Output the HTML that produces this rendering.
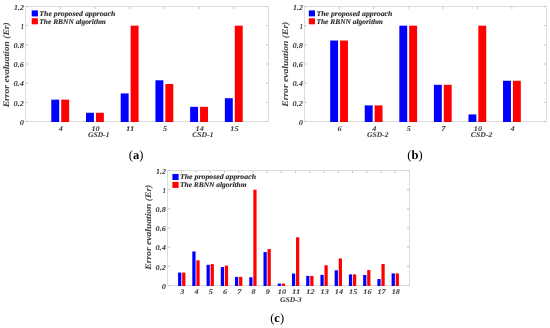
<!DOCTYPE html>
<html><head><meta charset="utf-8"><style>
html,body{margin:0;padding:0;background:#fff;}
svg{display:block;}
text{font-family:'Liberation Serif', serif;font-weight:bold;font-style:italic;fill:#2b2b2b;stroke:#2b2b2b;stroke-width:0.12px;text-rendering:geometricPrecision;}
text.tk{fill:#404040;stroke:#404040;stroke-width:0.05px;}
text.yl{fill:#404040;stroke:#404040;stroke-width:0.05px;}
text.cap{font-style:normal;font-weight:normal;fill:#000;stroke:none;}
</style></head><body>
<svg width="550" height="328" viewBox="0 0 550 328">
<rect x="25.5" y="6.5" width="243.0" height="115.0" fill="none" stroke="#dcdcdc" stroke-width="1"/>
<rect x="51.29" y="99.65" width="7.93" height="22.35" fill="#0000ff"/>
<rect x="61.21" y="99.65" width="7.93" height="22.35" fill="#ff0000"/>
<rect x="86.00" y="112.78" width="7.93" height="9.22" fill="#0000ff"/>
<rect x="95.92" y="112.78" width="7.93" height="9.22" fill="#ff0000"/>
<rect x="120.72" y="93.42" width="7.93" height="28.58" fill="#0000ff"/>
<rect x="130.63" y="25.67" width="7.93" height="96.33" fill="#ff0000"/>
<rect x="155.43" y="80.29" width="7.93" height="41.71" fill="#0000ff"/>
<rect x="165.35" y="84.03" width="7.93" height="37.97" fill="#ff0000"/>
<rect x="190.14" y="106.84" width="7.93" height="15.16" fill="#0000ff"/>
<rect x="200.06" y="106.84" width="7.93" height="15.16" fill="#ff0000"/>
<rect x="224.86" y="98.21" width="7.93" height="23.79" fill="#0000ff"/>
<rect x="234.78" y="25.67" width="7.93" height="96.33" fill="#ff0000"/>
<line x1="26.0" y1="121.50" x2="28.0" y2="121.50" stroke="#c4c4c4" stroke-width="1"/>
<line x1="268.0" y1="121.50" x2="266.0" y2="121.50" stroke="#c4c4c4" stroke-width="1"/>
<text x="23.90" y="124.70" font-size="7.5" text-anchor="end" class="tk" textLength="4.2" lengthAdjust="spacingAndGlyphs">0</text>
<line x1="26.0" y1="102.33" x2="28.0" y2="102.33" stroke="#c4c4c4" stroke-width="1"/>
<line x1="268.0" y1="102.33" x2="266.0" y2="102.33" stroke="#c4c4c4" stroke-width="1"/>
<text x="23.90" y="105.53" font-size="7.5" text-anchor="end" class="tk" textLength="10.3" lengthAdjust="spacingAndGlyphs">0.2</text>
<line x1="26.0" y1="83.17" x2="28.0" y2="83.17" stroke="#c4c4c4" stroke-width="1"/>
<line x1="268.0" y1="83.17" x2="266.0" y2="83.17" stroke="#c4c4c4" stroke-width="1"/>
<text x="23.90" y="86.37" font-size="7.5" text-anchor="end" class="tk" textLength="10.5" lengthAdjust="spacingAndGlyphs">0.4</text>
<line x1="26.0" y1="64.00" x2="28.0" y2="64.00" stroke="#c4c4c4" stroke-width="1"/>
<line x1="268.0" y1="64.00" x2="266.0" y2="64.00" stroke="#c4c4c4" stroke-width="1"/>
<text x="23.90" y="67.20" font-size="7.5" text-anchor="end" class="tk" textLength="10.3" lengthAdjust="spacingAndGlyphs">0.6</text>
<line x1="26.0" y1="44.83" x2="28.0" y2="44.83" stroke="#c4c4c4" stroke-width="1"/>
<line x1="268.0" y1="44.83" x2="266.0" y2="44.83" stroke="#c4c4c4" stroke-width="1"/>
<text x="23.90" y="48.03" font-size="7.5" text-anchor="end" class="tk" textLength="10.3" lengthAdjust="spacingAndGlyphs">0.8</text>
<line x1="26.0" y1="25.67" x2="28.0" y2="25.67" stroke="#c4c4c4" stroke-width="1"/>
<line x1="268.0" y1="25.67" x2="266.0" y2="25.67" stroke="#c4c4c4" stroke-width="1"/>
<text x="23.90" y="28.87" font-size="7.5" text-anchor="end" class="tk" textLength="3.2" lengthAdjust="spacingAndGlyphs">1</text>
<line x1="26.0" y1="6.50" x2="28.0" y2="6.50" stroke="#c4c4c4" stroke-width="1"/>
<line x1="268.0" y1="6.50" x2="266.0" y2="6.50" stroke="#c4c4c4" stroke-width="1"/>
<text x="23.90" y="9.70" font-size="7.5" text-anchor="end" class="tk" textLength="10.0" lengthAdjust="spacingAndGlyphs">1.2</text>
<line x1="60.21" y1="7.0" x2="60.21" y2="9.0" stroke="#c4c4c4" stroke-width="1"/>
<text x="60.81" y="130.60" font-size="7.1" text-anchor="middle" class="tk" textLength="4.1" lengthAdjust="spacingAndGlyphs">4</text>
<line x1="94.93" y1="7.0" x2="94.93" y2="9.0" stroke="#c4c4c4" stroke-width="1"/>
<text x="95.53" y="130.60" font-size="7.1" text-anchor="middle" class="tk" textLength="8.2" lengthAdjust="spacingAndGlyphs">10</text>
<line x1="129.64" y1="7.0" x2="129.64" y2="9.0" stroke="#c4c4c4" stroke-width="1"/>
<text x="130.24" y="130.60" font-size="7.1" text-anchor="middle" class="tk" textLength="8.2" lengthAdjust="spacingAndGlyphs">11</text>
<line x1="164.36" y1="7.0" x2="164.36" y2="9.0" stroke="#c4c4c4" stroke-width="1"/>
<text x="164.96" y="130.60" font-size="7.1" text-anchor="middle" class="tk" textLength="4.1" lengthAdjust="spacingAndGlyphs">5</text>
<line x1="199.07" y1="7.0" x2="199.07" y2="9.0" stroke="#c4c4c4" stroke-width="1"/>
<text x="199.67" y="130.60" font-size="7.1" text-anchor="middle" class="tk" textLength="8.2" lengthAdjust="spacingAndGlyphs">14</text>
<line x1="233.79" y1="7.0" x2="233.79" y2="9.0" stroke="#c4c4c4" stroke-width="1"/>
<text x="234.39" y="130.60" font-size="7.1" text-anchor="middle" class="tk" textLength="8.2" lengthAdjust="spacingAndGlyphs">15</text>
<text x="98.70" y="137.30" font-size="7.2" text-anchor="middle" class="tk" textLength="21.5" lengthAdjust="spacingAndGlyphs">GSD-1</text>
<text x="202.90" y="137.30" font-size="7.2" text-anchor="middle" class="tk" textLength="21.5" lengthAdjust="spacingAndGlyphs">CSD-1</text>
<rect x="31.70" y="10.40" width="6.20" height="6.00" fill="#0000ff"/>
<rect x="31.70" y="18.30" width="6.20" height="6.00" fill="#ff0000"/>
<text x="39.30" y="15.70" font-size="7.3" text-anchor="start" textLength="76" lengthAdjust="spacingAndGlyphs">The proposed approach</text>
<text x="39.30" y="23.60" font-size="7.3" text-anchor="start" textLength="66.5" lengthAdjust="spacingAndGlyphs">The RBNN algorithm</text>
<text x="0" y="0" font-size="8.5" class="yl" text-anchor="middle" transform="translate(9.0,64.8) rotate(-90)" textLength="85" lengthAdjust="spacingAndGlyphs">Error evaluation (Er)</text>
<text x="136" y="158.5" font-size="12.5" text-anchor="middle" class="cap">(<tspan font-weight="bold">a</tspan>)</text>
<rect x="304.5" y="6.5" width="242.0" height="115.0" fill="none" stroke="#dcdcdc" stroke-width="1"/>
<rect x="330.18" y="40.52" width="7.90" height="81.48" fill="#0000ff"/>
<rect x="340.06" y="40.52" width="7.90" height="81.48" fill="#ff0000"/>
<rect x="364.75" y="105.40" width="7.90" height="16.60" fill="#0000ff"/>
<rect x="374.63" y="105.40" width="7.90" height="16.60" fill="#ff0000"/>
<rect x="399.32" y="25.67" width="7.90" height="96.33" fill="#0000ff"/>
<rect x="409.20" y="25.67" width="7.90" height="96.33" fill="#ff0000"/>
<rect x="433.90" y="84.80" width="7.90" height="37.20" fill="#0000ff"/>
<rect x="443.77" y="84.80" width="7.90" height="37.20" fill="#ff0000"/>
<rect x="468.47" y="114.41" width="7.90" height="7.59" fill="#0000ff"/>
<rect x="478.34" y="25.67" width="7.90" height="96.33" fill="#ff0000"/>
<rect x="503.04" y="80.77" width="7.90" height="41.23" fill="#0000ff"/>
<rect x="512.92" y="80.77" width="7.90" height="41.23" fill="#ff0000"/>
<line x1="305.0" y1="121.50" x2="307.0" y2="121.50" stroke="#c4c4c4" stroke-width="1"/>
<line x1="546.0" y1="121.50" x2="544.0" y2="121.50" stroke="#c4c4c4" stroke-width="1"/>
<text x="302.90" y="124.70" font-size="7.5" text-anchor="end" class="tk" textLength="4.2" lengthAdjust="spacingAndGlyphs">0</text>
<line x1="305.0" y1="102.33" x2="307.0" y2="102.33" stroke="#c4c4c4" stroke-width="1"/>
<line x1="546.0" y1="102.33" x2="544.0" y2="102.33" stroke="#c4c4c4" stroke-width="1"/>
<text x="302.90" y="105.53" font-size="7.5" text-anchor="end" class="tk" textLength="10.3" lengthAdjust="spacingAndGlyphs">0.2</text>
<line x1="305.0" y1="83.17" x2="307.0" y2="83.17" stroke="#c4c4c4" stroke-width="1"/>
<line x1="546.0" y1="83.17" x2="544.0" y2="83.17" stroke="#c4c4c4" stroke-width="1"/>
<text x="302.90" y="86.37" font-size="7.5" text-anchor="end" class="tk" textLength="10.5" lengthAdjust="spacingAndGlyphs">0.4</text>
<line x1="305.0" y1="64.00" x2="307.0" y2="64.00" stroke="#c4c4c4" stroke-width="1"/>
<line x1="546.0" y1="64.00" x2="544.0" y2="64.00" stroke="#c4c4c4" stroke-width="1"/>
<text x="302.90" y="67.20" font-size="7.5" text-anchor="end" class="tk" textLength="10.3" lengthAdjust="spacingAndGlyphs">0.6</text>
<line x1="305.0" y1="44.83" x2="307.0" y2="44.83" stroke="#c4c4c4" stroke-width="1"/>
<line x1="546.0" y1="44.83" x2="544.0" y2="44.83" stroke="#c4c4c4" stroke-width="1"/>
<text x="302.90" y="48.03" font-size="7.5" text-anchor="end" class="tk" textLength="10.3" lengthAdjust="spacingAndGlyphs">0.8</text>
<line x1="305.0" y1="25.67" x2="307.0" y2="25.67" stroke="#c4c4c4" stroke-width="1"/>
<line x1="546.0" y1="25.67" x2="544.0" y2="25.67" stroke="#c4c4c4" stroke-width="1"/>
<text x="302.90" y="28.87" font-size="7.5" text-anchor="end" class="tk" textLength="3.2" lengthAdjust="spacingAndGlyphs">1</text>
<line x1="305.0" y1="6.50" x2="307.0" y2="6.50" stroke="#c4c4c4" stroke-width="1"/>
<line x1="546.0" y1="6.50" x2="544.0" y2="6.50" stroke="#c4c4c4" stroke-width="1"/>
<text x="302.90" y="9.70" font-size="7.5" text-anchor="end" class="tk" textLength="10.0" lengthAdjust="spacingAndGlyphs">1.2</text>
<line x1="339.07" y1="7.0" x2="339.07" y2="9.0" stroke="#c4c4c4" stroke-width="1"/>
<text x="339.67" y="130.60" font-size="7.1" text-anchor="middle" class="tk" textLength="4.1" lengthAdjust="spacingAndGlyphs">6</text>
<line x1="373.64" y1="7.0" x2="373.64" y2="9.0" stroke="#c4c4c4" stroke-width="1"/>
<text x="374.24" y="130.60" font-size="7.1" text-anchor="middle" class="tk" textLength="4.1" lengthAdjust="spacingAndGlyphs">4</text>
<line x1="408.21" y1="7.0" x2="408.21" y2="9.0" stroke="#c4c4c4" stroke-width="1"/>
<text x="408.81" y="130.60" font-size="7.1" text-anchor="middle" class="tk" textLength="4.1" lengthAdjust="spacingAndGlyphs">5</text>
<line x1="442.79" y1="7.0" x2="442.79" y2="9.0" stroke="#c4c4c4" stroke-width="1"/>
<text x="443.39" y="130.60" font-size="7.1" text-anchor="middle" class="tk" textLength="4.1" lengthAdjust="spacingAndGlyphs">7</text>
<line x1="477.36" y1="7.0" x2="477.36" y2="9.0" stroke="#c4c4c4" stroke-width="1"/>
<text x="477.96" y="130.60" font-size="7.1" text-anchor="middle" class="tk" textLength="8.2" lengthAdjust="spacingAndGlyphs">10</text>
<line x1="511.93" y1="7.0" x2="511.93" y2="9.0" stroke="#c4c4c4" stroke-width="1"/>
<text x="512.53" y="130.60" font-size="7.1" text-anchor="middle" class="tk" textLength="4.1" lengthAdjust="spacingAndGlyphs">4</text>
<text x="377.70" y="137.30" font-size="7.2" text-anchor="middle" class="tk" textLength="21.5" lengthAdjust="spacingAndGlyphs">GSD-2</text>
<text x="481.60" y="137.30" font-size="7.2" text-anchor="middle" class="tk" textLength="21.5" lengthAdjust="spacingAndGlyphs">CSD-2</text>
<rect x="308.80" y="10.40" width="6.20" height="6.00" fill="#0000ff"/>
<rect x="308.80" y="18.30" width="6.20" height="6.00" fill="#ff0000"/>
<text x="316.40" y="15.70" font-size="7.3" text-anchor="start" textLength="76" lengthAdjust="spacingAndGlyphs">The proposed approach</text>
<text x="316.40" y="23.60" font-size="7.3" text-anchor="start" textLength="66.5" lengthAdjust="spacingAndGlyphs">The RBNN algorithm</text>
<text x="0" y="0" font-size="8.5" class="yl" text-anchor="middle" transform="translate(287.9,64.2) rotate(-90)" textLength="85" lengthAdjust="spacingAndGlyphs">Error evaluation (Er)</text>
<text x="415" y="158.5" font-size="12.5" text-anchor="middle" class="cap">(<tspan font-weight="bold">b</tspan>)</text>
<rect x="167.5" y="170.5" width="242.0" height="115.0" fill="none" stroke="#dcdcdc" stroke-width="1"/>
<rect x="178.07" y="272.56" width="3.25" height="13.44" fill="#0000ff"/>
<rect x="182.14" y="272.56" width="3.25" height="13.44" fill="#ff0000"/>
<rect x="192.31" y="251.48" width="3.25" height="34.52" fill="#0000ff"/>
<rect x="196.38" y="260.30" width="3.25" height="25.70" fill="#ff0000"/>
<rect x="206.55" y="264.80" width="3.25" height="21.20" fill="#0000ff"/>
<rect x="210.61" y="264.13" width="3.25" height="21.87" fill="#ff0000"/>
<rect x="220.78" y="267.10" width="3.25" height="18.90" fill="#0000ff"/>
<rect x="224.85" y="265.57" width="3.25" height="20.43" fill="#ff0000"/>
<rect x="235.02" y="276.88" width="3.25" height="9.12" fill="#0000ff"/>
<rect x="239.08" y="276.88" width="3.25" height="9.12" fill="#ff0000"/>
<rect x="249.25" y="277.26" width="3.25" height="8.74" fill="#0000ff"/>
<rect x="253.32" y="189.67" width="3.25" height="96.33" fill="#ff0000"/>
<rect x="263.49" y="252.05" width="3.25" height="33.95" fill="#0000ff"/>
<rect x="267.55" y="249.08" width="3.25" height="36.92" fill="#ff0000"/>
<rect x="277.72" y="283.58" width="3.25" height="2.42" fill="#0000ff"/>
<rect x="281.79" y="283.58" width="3.25" height="2.42" fill="#ff0000"/>
<rect x="291.96" y="273.52" width="3.25" height="12.48" fill="#0000ff"/>
<rect x="296.02" y="237.30" width="3.25" height="48.70" fill="#ff0000"/>
<rect x="306.19" y="275.92" width="3.25" height="10.08" fill="#0000ff"/>
<rect x="310.26" y="275.92" width="3.25" height="10.08" fill="#ff0000"/>
<rect x="320.43" y="274.86" width="3.25" height="11.14" fill="#0000ff"/>
<rect x="324.49" y="265.28" width="3.25" height="20.72" fill="#ff0000"/>
<rect x="334.66" y="270.26" width="3.25" height="15.74" fill="#0000ff"/>
<rect x="338.73" y="258.48" width="3.25" height="27.52" fill="#ff0000"/>
<rect x="348.90" y="274.38" width="3.25" height="11.62" fill="#0000ff"/>
<rect x="352.97" y="274.38" width="3.25" height="11.62" fill="#ff0000"/>
<rect x="363.13" y="274.96" width="3.25" height="11.04" fill="#0000ff"/>
<rect x="367.20" y="270.07" width="3.25" height="15.93" fill="#ff0000"/>
<rect x="377.37" y="279.08" width="3.25" height="6.92" fill="#0000ff"/>
<rect x="381.44" y="263.94" width="3.25" height="22.06" fill="#ff0000"/>
<rect x="391.60" y="273.43" width="3.25" height="12.58" fill="#0000ff"/>
<rect x="395.67" y="273.43" width="3.25" height="12.58" fill="#ff0000"/>
<line x1="168.0" y1="285.50" x2="170.0" y2="285.50" stroke="#c4c4c4" stroke-width="1"/>
<line x1="409.0" y1="285.50" x2="407.0" y2="285.50" stroke="#c4c4c4" stroke-width="1"/>
<text x="165.90" y="288.70" font-size="7.5" text-anchor="end" class="tk" textLength="4.2" lengthAdjust="spacingAndGlyphs">0</text>
<line x1="168.0" y1="266.33" x2="170.0" y2="266.33" stroke="#c4c4c4" stroke-width="1"/>
<line x1="409.0" y1="266.33" x2="407.0" y2="266.33" stroke="#c4c4c4" stroke-width="1"/>
<text x="165.90" y="269.53" font-size="7.5" text-anchor="end" class="tk" textLength="10.3" lengthAdjust="spacingAndGlyphs">0.2</text>
<line x1="168.0" y1="247.17" x2="170.0" y2="247.17" stroke="#c4c4c4" stroke-width="1"/>
<line x1="409.0" y1="247.17" x2="407.0" y2="247.17" stroke="#c4c4c4" stroke-width="1"/>
<text x="165.90" y="250.37" font-size="7.5" text-anchor="end" class="tk" textLength="10.5" lengthAdjust="spacingAndGlyphs">0.4</text>
<line x1="168.0" y1="228.00" x2="170.0" y2="228.00" stroke="#c4c4c4" stroke-width="1"/>
<line x1="409.0" y1="228.00" x2="407.0" y2="228.00" stroke="#c4c4c4" stroke-width="1"/>
<text x="165.90" y="231.20" font-size="7.5" text-anchor="end" class="tk" textLength="10.3" lengthAdjust="spacingAndGlyphs">0.6</text>
<line x1="168.0" y1="208.83" x2="170.0" y2="208.83" stroke="#c4c4c4" stroke-width="1"/>
<line x1="409.0" y1="208.83" x2="407.0" y2="208.83" stroke="#c4c4c4" stroke-width="1"/>
<text x="165.90" y="212.03" font-size="7.5" text-anchor="end" class="tk" textLength="10.3" lengthAdjust="spacingAndGlyphs">0.8</text>
<line x1="168.0" y1="189.67" x2="170.0" y2="189.67" stroke="#c4c4c4" stroke-width="1"/>
<line x1="409.0" y1="189.67" x2="407.0" y2="189.67" stroke="#c4c4c4" stroke-width="1"/>
<text x="165.90" y="192.87" font-size="7.5" text-anchor="end" class="tk" textLength="3.2" lengthAdjust="spacingAndGlyphs">1</text>
<line x1="168.0" y1="170.50" x2="170.0" y2="170.50" stroke="#c4c4c4" stroke-width="1"/>
<line x1="409.0" y1="170.50" x2="407.0" y2="170.50" stroke="#c4c4c4" stroke-width="1"/>
<text x="165.90" y="173.70" font-size="7.5" text-anchor="end" class="tk" textLength="10.0" lengthAdjust="spacingAndGlyphs">1.2</text>
<line x1="181.74" y1="171.0" x2="181.74" y2="173.0" stroke="#c4c4c4" stroke-width="1"/>
<text x="182.34" y="294.00" font-size="7.1" text-anchor="middle" class="tk" textLength="4.1" lengthAdjust="spacingAndGlyphs">3</text>
<line x1="195.97" y1="171.0" x2="195.97" y2="173.0" stroke="#c4c4c4" stroke-width="1"/>
<text x="196.57" y="294.00" font-size="7.1" text-anchor="middle" class="tk" textLength="4.1" lengthAdjust="spacingAndGlyphs">4</text>
<line x1="210.21" y1="171.0" x2="210.21" y2="173.0" stroke="#c4c4c4" stroke-width="1"/>
<text x="210.81" y="294.00" font-size="7.1" text-anchor="middle" class="tk" textLength="4.1" lengthAdjust="spacingAndGlyphs">5</text>
<line x1="224.44" y1="171.0" x2="224.44" y2="173.0" stroke="#c4c4c4" stroke-width="1"/>
<text x="225.04" y="294.00" font-size="7.1" text-anchor="middle" class="tk" textLength="4.1" lengthAdjust="spacingAndGlyphs">6</text>
<line x1="238.68" y1="171.0" x2="238.68" y2="173.0" stroke="#c4c4c4" stroke-width="1"/>
<text x="239.28" y="294.00" font-size="7.1" text-anchor="middle" class="tk" textLength="4.1" lengthAdjust="spacingAndGlyphs">7</text>
<line x1="252.91" y1="171.0" x2="252.91" y2="173.0" stroke="#c4c4c4" stroke-width="1"/>
<text x="253.51" y="294.00" font-size="7.1" text-anchor="middle" class="tk" textLength="4.1" lengthAdjust="spacingAndGlyphs">8</text>
<line x1="267.15" y1="171.0" x2="267.15" y2="173.0" stroke="#c4c4c4" stroke-width="1"/>
<text x="267.75" y="294.00" font-size="7.1" text-anchor="middle" class="tk" textLength="4.1" lengthAdjust="spacingAndGlyphs">9</text>
<line x1="281.38" y1="171.0" x2="281.38" y2="173.0" stroke="#c4c4c4" stroke-width="1"/>
<text x="281.98" y="294.00" font-size="7.1" text-anchor="middle" class="tk" textLength="8.2" lengthAdjust="spacingAndGlyphs">10</text>
<line x1="295.62" y1="171.0" x2="295.62" y2="173.0" stroke="#c4c4c4" stroke-width="1"/>
<text x="296.22" y="294.00" font-size="7.1" text-anchor="middle" class="tk" textLength="8.2" lengthAdjust="spacingAndGlyphs">11</text>
<line x1="309.85" y1="171.0" x2="309.85" y2="173.0" stroke="#c4c4c4" stroke-width="1"/>
<text x="310.45" y="294.00" font-size="7.1" text-anchor="middle" class="tk" textLength="8.2" lengthAdjust="spacingAndGlyphs">12</text>
<line x1="324.09" y1="171.0" x2="324.09" y2="173.0" stroke="#c4c4c4" stroke-width="1"/>
<text x="324.69" y="294.00" font-size="7.1" text-anchor="middle" class="tk" textLength="8.2" lengthAdjust="spacingAndGlyphs">13</text>
<line x1="338.32" y1="171.0" x2="338.32" y2="173.0" stroke="#c4c4c4" stroke-width="1"/>
<text x="338.92" y="294.00" font-size="7.1" text-anchor="middle" class="tk" textLength="8.2" lengthAdjust="spacingAndGlyphs">14</text>
<line x1="352.56" y1="171.0" x2="352.56" y2="173.0" stroke="#c4c4c4" stroke-width="1"/>
<text x="353.16" y="294.00" font-size="7.1" text-anchor="middle" class="tk" textLength="8.2" lengthAdjust="spacingAndGlyphs">15</text>
<line x1="366.79" y1="171.0" x2="366.79" y2="173.0" stroke="#c4c4c4" stroke-width="1"/>
<text x="367.39" y="294.00" font-size="7.1" text-anchor="middle" class="tk" textLength="8.2" lengthAdjust="spacingAndGlyphs">16</text>
<line x1="381.03" y1="171.0" x2="381.03" y2="173.0" stroke="#c4c4c4" stroke-width="1"/>
<text x="381.63" y="294.00" font-size="7.1" text-anchor="middle" class="tk" textLength="8.2" lengthAdjust="spacingAndGlyphs">17</text>
<line x1="395.26" y1="171.0" x2="395.26" y2="173.0" stroke="#c4c4c4" stroke-width="1"/>
<text x="395.86" y="294.00" font-size="7.1" text-anchor="middle" class="tk" textLength="8.2" lengthAdjust="spacingAndGlyphs">18</text>
<text x="290.80" y="302.00" font-size="7.2" text-anchor="middle" class="tk" textLength="21.5" lengthAdjust="spacingAndGlyphs">GSD-3</text>
<rect x="172.40" y="174.00" width="6.20" height="6.00" fill="#0000ff"/>
<rect x="172.40" y="181.90" width="6.20" height="6.00" fill="#ff0000"/>
<text x="180.00" y="179.30" font-size="7.3" text-anchor="start" textLength="76" lengthAdjust="spacingAndGlyphs">The proposed approach</text>
<text x="180.00" y="187.20" font-size="7.3" text-anchor="start" textLength="66.5" lengthAdjust="spacingAndGlyphs">The RBNN algorithm</text>
<text x="0" y="0" font-size="8.5" class="yl" text-anchor="middle" transform="translate(150.5,227.2) rotate(-90)" textLength="85" lengthAdjust="spacingAndGlyphs">Error evaluation (Er)</text>
<text x="277.1" y="322.3" font-size="12.5" text-anchor="middle" class="cap">(<tspan font-weight="bold">c</tspan>)</text>
</svg>
</body></html>
